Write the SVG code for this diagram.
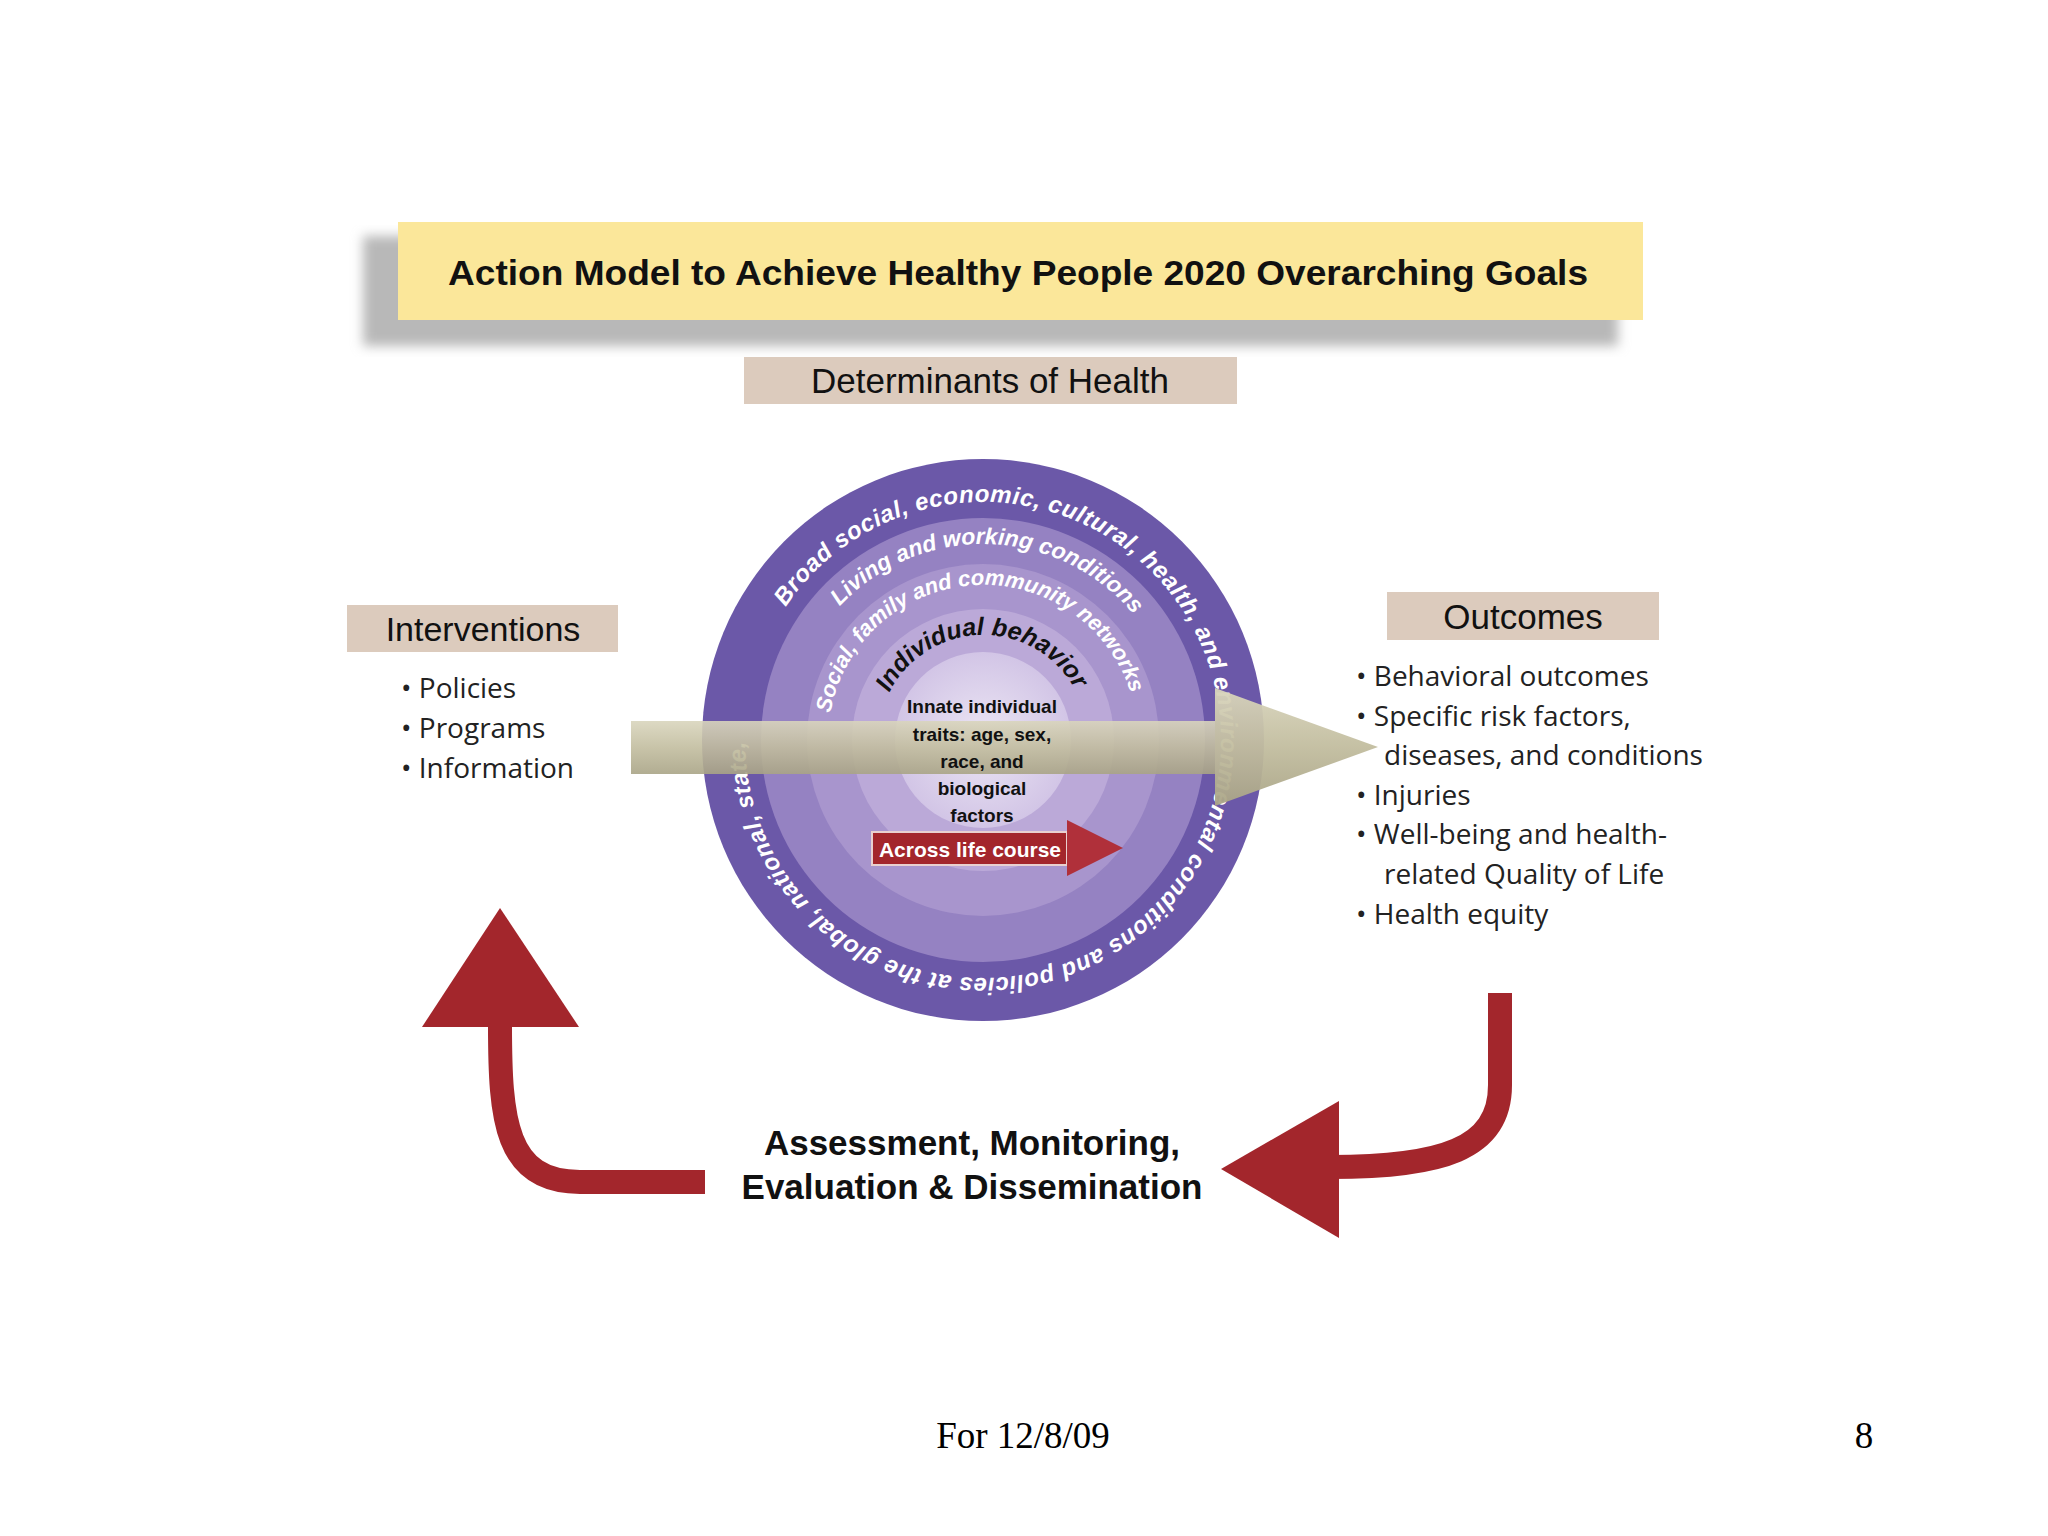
<svg xmlns="http://www.w3.org/2000/svg" xmlns:xlink="http://www.w3.org/1999/xlink" width="2048" height="1536" viewBox="0 0 2048 1536">
<style>
.lbl{font-family:"Liberation Sans",Arial,sans-serif;fill:#111}
.bul{font-family:"Open Sans","Liberation Sans",sans-serif;font-size:28px;fill:#222}
.ring{font-family:"Liberation Sans",Arial,sans-serif;font-weight:bold;font-style:italic;fill:#fff}
.inn{font-family:"Liberation Sans",sans-serif;font-weight:bold;font-size:19px;fill:#111;text-anchor:middle}
.tan{fill:#dccbbd}
.red{fill:#a3262c}
</style>
<defs>
<path id="p1" d="M745,740 A238,238 0 1 1 1221,740 A238,238 0 1 1 745,740"/>
<path id="p2" d="M787,740 A196,196 0 1 1 1179,740 A196,196 0 1 1 787,740"/>
<path id="p3" d="M828,740 A155,155 0 1 1 1138,740 A155,155 0 1 1 828,740"/>
<path id="p4" d="M878,740 A105,105 0 1 1 1088,740 A105,105 0 1 1 878,740"/>
<linearGradient id="bar" x1="0" y1="0" x2="0" y2="1"><stop offset="0" stop-color="#d9d5bd"/><stop offset="0.5" stop-color="#c2bd9f"/><stop offset="1" stop-color="#a9a486"/></linearGradient>
<radialGradient id="core"><stop offset="0" stop-color="#ece6f4"/><stop offset="1" stop-color="#d2c5e6"/></radialGradient>
<filter id="blur"><feGaussianBlur stdDeviation="6"/></filter>
</defs>
<rect width="2048" height="1536" fill="#fff"/>
<g id="title">
<rect x="363" y="236" width="1255" height="110" fill="#b8b8b8" filter="url(#blur)"/>
<rect x="398" y="222" width="1245" height="98" fill="#fbe79a"/>
<text class="lbl" x="1018" y="285" font-size="35" font-weight="bold" text-anchor="middle" textLength="1140" lengthAdjust="spacingAndGlyphs">Action Model to Achieve Healthy People 2020 Overarching Goals</text>
</g>
<g id="determinants">
<rect class="tan" x="744" y="357" width="493" height="47"/>
<text class="lbl" x="990" y="393" font-size="35" text-anchor="middle">Determinants of Health</text>
</g>
<g id="circle">
<circle cx="983" cy="740" r="281" fill="#6b58a8"/>
<circle cx="983" cy="740" r="222" fill="#9582c2"/>
<circle cx="983" cy="740" r="176" fill="#a895cd"/>
<circle cx="983" cy="740" r="131" fill="#bba9d8"/>
<circle cx="983" cy="740" r="88" fill="url(#core)"/>
<text class="ring" font-size="24" letter-spacing="0.6"><textPath xlink:href="#p1" startOffset="141">Broad social, economic, cultural, health, and environmental conditions and policies at the global, national, state, and local levels</textPath></text>
<text class="ring" font-size="23"><textPath xlink:href="#p2" startOffset="147">Living and working conditions</textPath></text>
<text class="ring" font-size="22"><textPath xlink:href="#p3" startOffset="27">Social, family and community networks</textPath></text>
<text class="ring" font-size="25" style="fill:#111"><textPath xlink:href="#p4" startOffset="49">Individual behavior</textPath></text>
</g>
<g id="flow">
<rect x="631" y="721" width="584" height="53" fill="url(#bar)" opacity="0.9"/>
<polygon points="1215,688 1378,747 1215,806" fill="url(#bar)" opacity="0.95"/>
</g>
<g id="innate">
<text class="inn" x="982" y="713">Innate individual</text>
<text class="inn" x="982" y="741">traits: age, sex,</text>
<text class="inn" x="982" y="768">race, and</text>
<text class="inn" x="982" y="795">biological</text>
<text class="inn" x="982" y="822">factors</text>
</g>
<g id="lifecourse">
<rect x="872" y="832" width="195" height="33" fill="#a3262c" stroke="#e9d0d0" stroke-width="2"/>
<polygon points="1067,820 1123,848 1067,876" fill="#b0303a"/>
<text x="970" y="857" font-family="Liberation Sans,sans-serif" font-size="21" font-weight="bold" fill="#fff" text-anchor="middle">Across life course</text>
</g>
<g id="interventions">
<rect class="tan" x="347" y="605" width="271" height="47"/>
<text class="lbl" x="483" y="641" font-size="34" text-anchor="middle">Interventions</text>
<text class="bul" x="401" y="698">• Policies</text>
<text class="bul" x="401" y="738">• Programs</text>
<text class="bul" x="401" y="778">• Information</text>
</g>
<g id="outcomes">
<rect class="tan" x="1387" y="592" width="272" height="48"/>
<text class="lbl" x="1523" y="629" font-size="35" text-anchor="middle">Outcomes</text>
<text class="bul" x="1356" y="686">•  Behavioral outcomes</text>
<text class="bul" x="1356" y="726">•  Specific risk factors,</text>
<text class="bul" x="1384" y="765">diseases, and conditions</text>
<text class="bul" x="1356" y="805">•  Injuries</text>
<text class="bul" x="1356" y="844">•  Well-being and health-</text>
<text class="bul" x="1384" y="884">related Quality of Life</text>
<text class="bul" x="1356" y="924">•  Health equity</text>
</g>
<g id="connectors">
<path d="M500,1025 C500,1120 505,1182 580,1182 L705,1182" fill="none" stroke="#a3262c" stroke-width="24"/>
<polygon class="red" points="500,908 579,1027 422,1027"/>
<path d="M1500,993 L1500,1085 C1500,1150 1440,1167 1330,1167" fill="none" stroke="#a3262c" stroke-width="24"/>
<polygon class="red" points="1221,1169 1339,1101 1339,1238"/>
</g>
<g id="assessment">
<text class="lbl" x="972" y="1155" font-size="35" font-weight="bold" text-anchor="middle">Assessment, Monitoring,</text>
<text class="lbl" x="972" y="1199" font-size="35" font-weight="bold" text-anchor="middle">Evaluation &amp; Dissemination</text>
</g>
<g id="footer">
<text x="1023" y="1448" font-family="Liberation Serif,serif" font-size="37" text-anchor="middle" fill="#000">For 12/8/09</text>
<text x="1864" y="1448" font-family="Liberation Serif,serif" font-size="37" text-anchor="middle" fill="#000">8</text>
</g>
</svg>
